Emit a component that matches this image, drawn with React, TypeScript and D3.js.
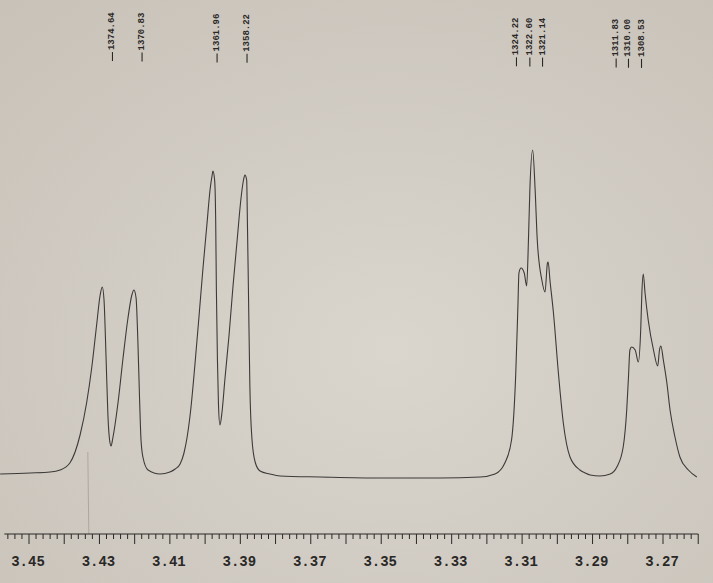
import React from 'react';
import * as d3 from 'd3';

// Spectrum trace: chemical shift (ppm) and intensity (arbitrary units)
const tracePpm = [
  3.4582, 3.4497, 3.444, 3.4412, 3.4384, 3.4355, 3.4336, 3.4322, 3.4308, 3.4298, 3.4292, 3.4287, 3.4281,
  3.4276, 3.427, 3.4267, 3.4262, 3.4247, 3.4233, 3.4219, 3.4208, 3.4202, 3.4196, 3.4191, 3.4186, 3.4182,
  3.4176, 3.4162, 3.4128, 3.41, 3.4085, 3.4071, 3.406, 3.4051, 3.404, 3.4029, 3.4017, 3.4006, 3.3995, 3.3986,
  3.398, 3.3978, 3.3973, 3.397, 3.3968, 3.3965, 3.3962, 3.3958, 3.3952, 3.3944, 3.3932, 3.3921, 3.3909,
  3.3898, 3.3891, 3.3887, 3.3882, 3.388, 3.3877, 3.3873, 3.3867, 3.3858, 3.3844, 3.3816, 3.3787, 3.3674,
  3.3503, 3.3333, 3.3219, 3.3177, 3.3149, 3.313, 3.3118, 3.3112, 3.3109, 3.3103, 3.3094, 3.3087, 3.3082,
  3.3078, 3.307, 3.3063, 3.3057, 3.3044, 3.3035, 3.3028, 3.3026, 3.3021, 3.3011, 3.2997, 3.2983, 3.2964,
  3.2936, 3.2921, 3.2907, 3.2879, 3.285, 3.2831, 3.2813, 3.2803, 3.2798, 3.2794, 3.2789, 3.2779, 3.277,
  3.2763, 3.276, 3.2756, 3.2751, 3.2742, 3.2727, 3.2715, 3.271, 3.2706, 3.2699, 3.2689, 3.268, 3.2666,
  3.2652, 3.2628, 3.2604,
];
const traceIntensity = [
  3, 4, 5, 7, 14, 42, 75, 109, 152, 182, 190, 177, 117,
  62, 34, 31, 39, 75, 119, 159, 182, 187, 179, 137, 77, 37,
  19, 7, 3, 5, 8, 13, 24, 40, 70, 112, 162, 209, 252, 287,
  302, 306, 297, 257, 187, 117, 72, 52, 65, 97, 142, 190, 237,
  279, 297, 302, 297, 257, 187, 92, 38, 15, 6, 3, 1, 0,
  -1, -1, 0, 3, 14, 37, 104, 170, 204, 209, 204, 191, 237,
  287, 327, 287, 237, 197, 185, 214, 215, 197, 164, 104, 54, 20,
  7, 4, 2, 1, 3, 10, 30, 67, 100, 127, 130, 127, 115,
  150, 184, 203, 184, 157, 127, 111, 127, 131, 117, 94, 67, 40,
  20, 7, 0,
];

// Peak labels (Hz) printed along the top, and where they sit on the ppm scale
const peakLabels = [
  '1374.64', '1370.83', '1361.96', '1358.22',
  '1324.22', '1322.60', '1321.14',
  '1311.83', '1310.00', '1308.53',
];
const peakLabelPpm = [
  3.4263, 3.4179, 3.3966, 3.3881,
  3.3116, 3.3078, 3.3042,
  3.2833, 3.2798, 3.2761,
];

// Axis
const tickLabels = ['3.45', '3.43', '3.41', '3.39', '3.37', '3.35', '3.33', '3.31', '3.29', '3.27'];
const axisStartPpm = 3.457;
const axisEndPpm = 3.26;
const minorStep = 0.002;
const cursorPpm = 3.4333;

const W = 713;
const H = 583;

export default function App() {
  const x = d3.scaleLinear().domain([3.45, 3.27]).range([29, 663]);
  const y = d3.scaleLinear().domain([0, 400]).range([477, 77]);

  const pts: [number, number][] = tracePpm.map((p, i) => [x(p), y(traceIntensity[i])]);
  const path = d3.line().curve(d3.curveMonotoneX)(pts) || '';

  const axisY = 534;
  const ticks: { v: number; major: boolean }[] = [];
  const n = Math.round((3.456 - axisEndPpm) / minorStep);
  for (let i = 0; i <= n; i++) {
    const v = 3.456 - i * minorStep;
    const k = Math.round(v * 1000);
    ticks.push({ v, major: k % 10 === 0 });
  }

  const ink = '#2a2826';

  return (
    <>
      <style>{`body{margin:0;}`}</style>
      <svg width={W} height={H} style={{ display: 'block' }}>
        <defs>
          <radialGradient id="paper" cx="0.55" cy="0.6" r="0.8">
            <stop offset="0" stopColor="#dad5cd" />
            <stop offset="1" stopColor="#c8c2b9" />
          </radialGradient>
        </defs>
        <rect x={0} y={0} width={W} height={H} fill="url(#paper)" />

        {/* peak labels */}
        {peakLabels.map((lab, i) => {
          const px = x(peakLabelPpm[i]);
          const bottom = 61 + (px - 110) * 0.013;
          return (
            <g key={lab} transform={`translate(${px},${bottom}) rotate(-90)`}>
              <line x1={0} x2={9} y1={0} y2={0} stroke={ink} strokeWidth={1.1} />
              <text
                x={11}
                y={0}
                dominantBaseline="central"
                fontFamily="'Liberation Mono', 'DejaVu Sans Mono', monospace"
                fontSize={9}
                fontWeight="bold"
                fill={ink}
              >
                {lab}
              </text>
            </g>
          );
        })}

        {/* spectrum */}
        <path d={path} fill="none" stroke="#3c3a38" strokeWidth={1.1} />

        {/* faint cursor line */}
        <line x1={x(cursorPpm)} x2={x(cursorPpm) + 1} y1={452} y2={axisY} stroke="#a49e95" strokeWidth={0.8} />

        {/* axis */}
        <line x1={x(axisStartPpm)} x2={x(axisEndPpm)} y1={axisY} y2={axisY} stroke={ink} strokeWidth={1.2} />
        {ticks.map((t, i) => (
          <line
            key={i}
            x1={x(t.v)}
            x2={x(t.v)}
            y1={axisY}
            y2={axisY + (t.major ? 10 : 5)}
            stroke={ink}
            strokeWidth={1}
          />
        ))}
        {tickLabels.map((lab) => (
          <text
            key={lab}
            x={x(+lab) - 1}
            y={566}
            textAnchor="middle"
            fontFamily="'Liberation Mono', 'DejaVu Sans Mono', monospace"
            fontSize={14}
            fontWeight="bold"
            fill={ink}
          >
            {lab}
          </text>
        ))}
      </svg>
    </>
  );
}
